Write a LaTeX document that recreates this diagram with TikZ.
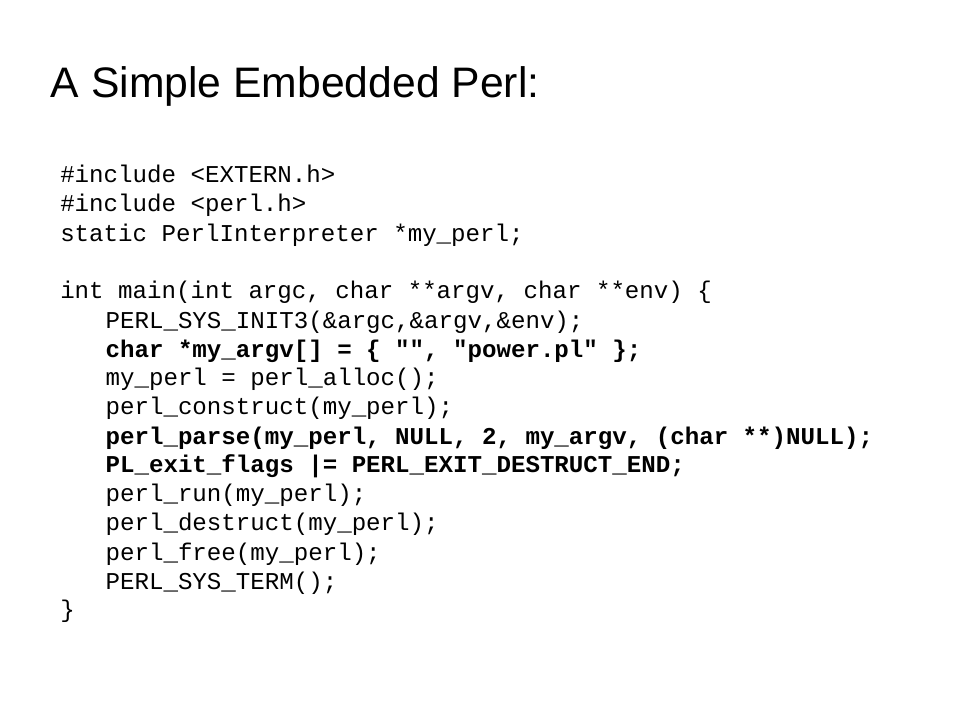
\documentclass[tikz,border=0pt]{standalone}
\usepackage{fontspec}
\setmainfont{Liberation Sans}
\newfontfamily\codefont{Liberation Mono}
\begin{document}
\begin{tikzpicture}[x=1pt,y=1pt,
  code/.style={anchor=base west,inner sep=0pt,font=\codefont\fontsize{18.1}{18.1}\selectfont},
  bcode/.style={code,font=\codefont\bfseries\fontsize{18.1}{18.1}\selectfont}]
\useasboundingbox (0,0) rectangle (720,-540);
\node[anchor=base west,inner sep=0pt,font=\fontsize{32}{32}\selectfont] (title) at (38,-73) {A Simple Embedded Perl:};
\node[code] (l1) at (45,-137) {\#include <EXTERN.h>};
\node[code] (l2) at (45,-159) {\#include <perl.h>};
\node[code] (l3) at (45,-181) {static PerlInterpreter *my\_perl;};
\node[code] (l4) at (45,-224) {int main(int argc, char **argv, char **env) \{};
\node[code] (l5) at (79,-246) {PERL\_SYS\_INIT3(\&argc,\&argv,\&env);};
\node[bcode] (l6) at (79,-268) {char *my\_argv[] = \{ "", "power.pl" \};};
\node[code] (l7) at (79,-289) {my\_perl = perl\_alloc();};
\node[code] (l8) at (79,-311) {perl\_construct(my\_perl);};
\node[bcode] (l9) at (79,-333) {perl\_parse(my\_perl, NULL, 2, my\_argv, (char **)NULL);};
\node[bcode] (l10) at (79,-354) {PL\_exit\_flags |= PERL\_EXIT\_DESTRUCT\_END;};
\node[code] (l11) at (79,-376) {perl\_run(my\_perl);};
\node[code] (l12) at (79,-398) {perl\_destruct(my\_perl);};
\node[code] (l13) at (79,-420) {perl\_free(my\_perl);};
\node[code] (l14) at (79,-442) {PERL\_SYS\_TERM();};
\node[code] (l15) at (45,-463) {\}};
\end{tikzpicture}
\end{document}
